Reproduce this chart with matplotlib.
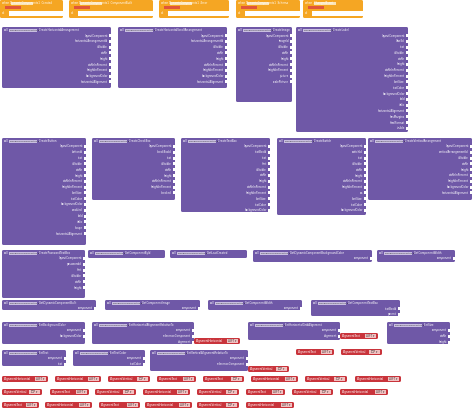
import matplotlib
matplotlib.use("Agg")
import matplotlib.pyplot as plt
from matplotlib.patches import FancyBboxPatch, Rectangle

PURPLE = "#6f58a7"
ORANGE = "#f5a623"
RED = "#c9343b"

# block outlines (left, top, width, height) in screen pixels
orange_blocks = [(0, 0, 63, 18), (69, 0, 84, 18), (159, 0, 70, 18), (236, 0, 64, 18), (303, 0, 60, 18)]
orange_titles = ["when DynamicComponents1 .Created", "when DynamicComponents1 .ComponentBuilt",
                 "when DynamicComponents1 .Error", "when DynamicComponents1 .Schema", "when .ChangedEvent"]

purple_blocks = [
    (2, 27, 109, 61), (118, 27, 109, 61), (236, 27, 56, 75), (296, 27, 112, 105),
    (2, 138, 84, 107), (92, 138, 83, 62), (181, 138, 89, 74), (277, 138, 89, 77), (368, 138, 104, 62),
    (2, 250, 83, 48), (88, 250, 77, 8), (170, 250, 77, 8), (253, 250, 119, 12), (377, 250, 78, 12),
    (2, 300, 94, 10), (105, 300, 95, 10), (208, 300, 94, 10), (311, 300, 89, 16),
    (2, 322, 83, 22), (92, 322, 102, 22), (248, 322, 92, 18), (387, 322, 63, 22),
    (2, 350, 64, 16), (73, 350, 72, 16), (150, 350, 98, 21),
]
purple_methods = [
    "CreateHorizontalArrangement", "CreateHorizontalScrollArrangement", "CreateImage", "CreateLabel",
    "CreateButton", "CreateCheckBox", "CreateTextBox", "CreateSwitch", "CreateVerticalArrangement",
    "CreatePasswordTextBox", "GetComponentById", "GetLastCreated", "GetDynamicComponentBackgroundColor",
    "GetComponentWidth", "GetDynamicComponentBuilt", "GetComponentImage", "GetComponentWidth",
    "GetComponentTextBox", "SetBackgroundColor", "SetHorizontalAlignmentRelativeTo",
    "SetHorizontalGridAlignment", "SetSize", "SetText", "SetTextColor", "SetVerticalAlignmentRelativeTo",
]
param_lists = [
    ["layoutComponent", "horizontalArrangementId", "isVisible", "width", "height", "widthInPercent",
     "heightInPercent", "backgroundColor", "horizontalAlignment", "verticalAlignment"],
    ["layoutComponent", "horizontalArrangementId", "isVisible", "width", "height", "widthInPercent",
     "heightInPercent", "backgroundColor", "horizontalAlignment", "verticalAlignment"],
    ["layoutComponent", "imageId", "isVisible", "width", "height", "widthInPercent", "heightInPercent",
     "picture", "scalePicture"],
    ["layoutComponent", "labelId", "text", "isVisible", "width", "height", "widthInPercent",
     "heightInPercent", "fontSize", "textColor", "backgroundColor", "bold", "italic",
     "horizontalAlignment", "hasMargins", "htmlFormat", "visible"],
    ["layoutComponent", "buttonId", "text", "isVisible", "width", "height", "widthInPercent",
     "heightInPercent", "fontSize", "textColor", "backgroundColor", "enabled", "bold", "italic",
     "shape", "horizontalAlignment"],
    ["layoutComponent", "checkBoxId", "text", "isVisible", "width", "height", "widthInPercent",
     "heightInPercent", "checked"],
    ["layoutComponent", "textBoxId", "text", "hint", "isVisible", "width", "height", "widthInPercent",
     "heightInPercent", "fontSize", "textColor", "backgroundColor"],
    ["layoutComponent", "switchId", "text", "isVisible", "width", "height", "widthInPercent",
     "heightInPercent", "on", "fontSize", "textColor", "backgroundColor"],
    ["layoutComponent", "verticalArrangementId", "isVisible", "width", "height", "widthInPercent",
     "heightInPercent", "backgroundColor", "horizontalAlignment"],
    ["layoutComponent", "passwordId", "hint", "isVisible", "width", "height"],
    [], [], ["component"], ["component"],
    ["component"], ["component"], ["component"], ["textBoxId", "parent"],
    ["component", "backgroundColor"], ["component", "referenceComponent", "alignment"],
    ["component", "alignment"], ["component", "width", "height"],
    ["component", "text"], ["component", "textColor"], ["component", "referenceComponent", "alignment"],
]

red_blocks = [
    (194, 338, 46, 6), (340, 333, 38, 6), (248, 366, 41, 6), (296, 349, 38, 6), (341, 349, 41, 6),
    (2, 376, 46, 6), (55, 376, 46, 6), (108, 376, 42, 6), (157, 376, 39, 6), (203, 376, 41, 6),
    (251, 376, 47, 6), (305, 376, 42, 6), (355, 376, 46, 6),
    (2, 389, 40, 6), (50, 389, 39, 6), (95, 389, 41, 6), (143, 389, 47, 6), (197, 389, 42, 6),
    (246, 389, 39, 6), (292, 389, 41, 6), (340, 389, 48, 6),
    (2, 402, 37, 6), (45, 402, 47, 6), (99, 402, 41, 6), (145, 402, 47, 6), (197, 402, 42, 6),
    (246, 402, 48, 6),
]
red_labels = ["AlignmentHorizontal LEFT", "AlignmentText LEFT", "AlignmentVertical TOP",
              "AlignmentText LEFT", "AlignmentVertical TOP"] + \
             ["AlignmentHorizontal LEFT", "AlignmentHorizontal LEFT", "AlignmentVertical TOP",
              "AlignmentText LEFT", "AlignmentText TOP", "AlignmentHorizontal LEFT",
              "AlignmentVertical TOP", "AlignmentHorizontal LEFT"] + \
             ["AlignmentVertical TOP", "AlignmentText LEFT", "AlignmentVertical TOP",
              "AlignmentHorizontal LEFT", "AlignmentVertical TOP", "AlignmentText LEFT",
              "AlignmentVertical TOP", "AlignmentHorizontal LEFT"] + \
             ["AlignmentText LEFT", "AlignmentHorizontal LEFT", "AlignmentText LEFT",
              "AlignmentHorizontal LEFT", "AlignmentVertical TOP", "AlignmentHorizontal LEFT"]

fig = plt.figure(figsize=(4.74, 4.08), dpi=100)
ax = fig.add_axes([0, 0, 1, 1])
ax.set_xlim(0, 474)
ax.set_ylim(408, 0)
ax.axis("off")

FS = 1.9

def block(x, y, w, h, color):
    ax.add_patch(FancyBboxPatch((x, y), w, h, boxstyle="round,pad=0,rounding_size=1.5",
                                fc=color, ec="none"))

for (x, y, w, h), t in zip(orange_blocks, orange_titles):
    block(x, y, w, h, ORANGE)
    ax.add_patch(Rectangle((x + 11, y + 1.5), 22, 3.5, fc="#fbe3b5", ec="none"))
    ax.text(x + 2, y + 3.3, t, color="white", fontsize=FS, va="center", clip_on=True)
    ax.add_patch(Rectangle((x + 5, y + 5.5), 16, 3, fc="#e0563a", ec="none"))
    ax.add_patch(Rectangle((x + 9, y + 11), w - 9, 5, fc="white", ec="none"))
    ax.text(x + 2, y + 13.5, "do", color="white", fontsize=FS, va="center")

for (x, y, w, h), m, ps in zip(purple_blocks, purple_methods, param_lists):
    block(x, y, w, max(h, 7), PURPLE)
    ax.add_patch(Rectangle((x + 7, y + 1.6), 28, 3.6, fc="#c9bfe0", ec="none"))
    ax.text(x + 1.5, y + 3.4, "call", color="white", fontsize=FS, va="center")
    ax.text(x + 8, y + 3.4, "DynamicComponents1 ▾", color="#333", fontsize=FS * 0.9, va="center")
    ax.text(x + 37, y + 3.4, "." + m, color="white", fontsize=FS, va="center")
    n = len(ps)
    for i, p in enumerate(ps):
        yy = y + 8.5 + i * 5.8
        if yy > y + h - 1:
            break
        ax.text(x + w - 3, yy, p, color="white", fontsize=FS, va="center", ha="right")
        ax.add_patch(Rectangle((x + w - 1.5, yy - 1.5), 1.5, 3, fc="white", ec="none"))

for (x, y, w, h), t in zip(red_blocks, red_labels):
    block(x, y, w, h, RED)
    name, val = t.split(" ")
    ax.text(x + 2, y + h / 2, name, color="white", fontsize=FS, va="center")
    ax.add_patch(Rectangle((x + w - 13, y + 1.2), 11, h - 2.4, fc="#f0c0c0", ec="none"))
    ax.text(x + w - 12, y + h / 2, val + " ▾", color="#333", fontsize=FS, va="center")

fig.savefig("out.png", dpi=100)
